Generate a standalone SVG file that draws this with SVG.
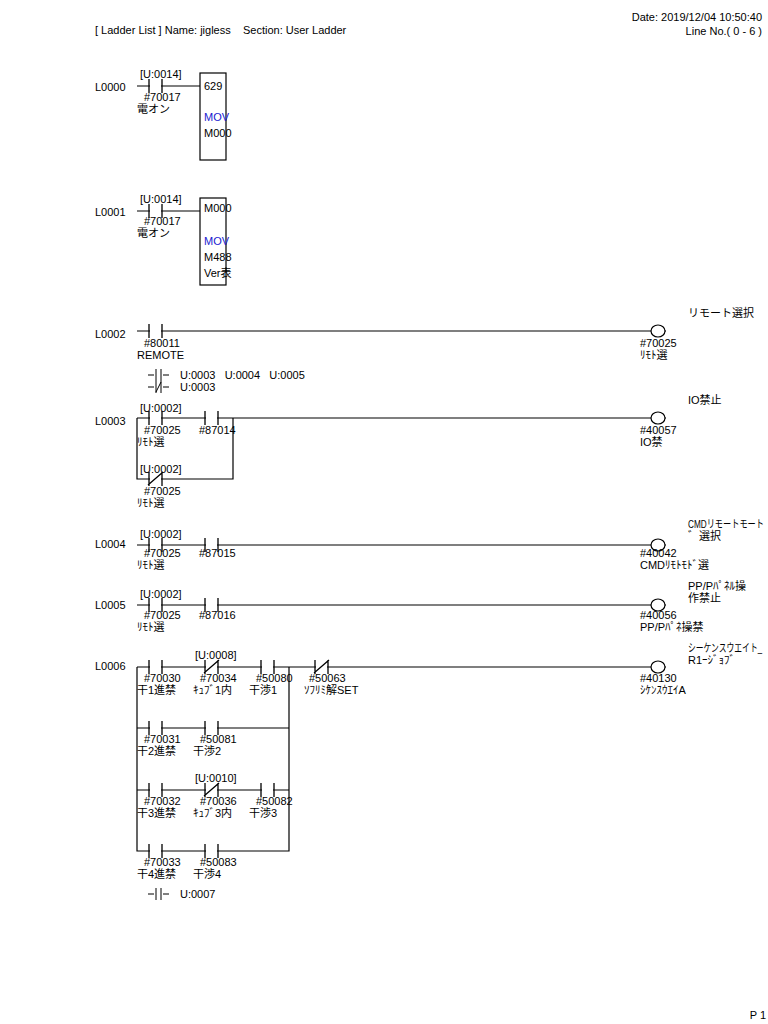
<svg xmlns="http://www.w3.org/2000/svg" xmlns:xlink="http://www.w3.org/1999/xlink" width="768" height="1024" viewBox="0 0 768 1024" xml:space="preserve">
<style>
text{font-family:"Liberation Sans","Noto Sans CJK JP",sans-serif;font-size:11px;fill:#000;white-space:pre}
.b{fill:#2020d0}
.w{stroke:#000;stroke-width:1.2;fill:none}
</style>
<defs>
<g id="no"><rect x="1" y="-3" width="11" height="6" fill="#fff"/><path d="M0,-7V7M13,-7V7" stroke="#000" stroke-width="1.3"/></g>
<g id="nc"><rect x="1" y="-3" width="11" height="6" fill="#fff"/><path d="M0,-7V7M13,-7V7M-1,6L14,-7" stroke="#000" stroke-width="1.3"/></g>
<g id="coil"><ellipse cx="0" cy="0" rx="7" ry="6" fill="#fff" stroke="#000" stroke-width="1.2"/></g>
<g id="xno"><path d="M0,0H6M8,-6V6M13,-6V6M15,0H21" stroke="#000" stroke-width="1"/></g>
<g id="xnc"><path d="M0,0H6M8,-6V6M13,-6V6M15,0H21M8,5L13,-5" stroke="#000" stroke-width="1"/></g>
</defs>
<rect width="768" height="1024" fill="#fff"/>
<text x="95" y="34">[ Ladder List ] Name: jigless    Section: User Ladder</text>
<text x="762" y="21" text-anchor="end">Date: 2019/12/04 10:50:40</text>
<text x="762" y="35" text-anchor="end">Line No.( 0 - 6 )</text>
<text x="766" y="1019" text-anchor="end">P 1</text>

<g id="connectors">
<path class="w" d="M137,86H200M137,211H200M137,331H666M137,418H666M137,418V479H233V418M137,545H666M137,605H666M137,667H666M137,667V851H289V667M137,728H289M137,790H289"/>
</g>

<g id="L0000">
<text x="95" y="91">L0000</text>
<use xlink:href="#no" x="149" y="86"/>
<text x="140" y="78">[U:0014]</text><text x="144" y="101">#70017</text><text x="137" y="113">電オン</text>
<rect x="200" y="73" width="26" height="87" fill="none" stroke="#000" stroke-width="1.2"/>
<text x="204" y="90">629</text><text x="204" y="121" class="b">MOV</text><text x="204" y="137">M000</text>
</g>
<g id="L0001">
<text x="95" y="216">L0001</text>
<use xlink:href="#no" x="149" y="211"/>
<text x="140" y="203">[U:0014]</text><text x="144" y="225">#70017</text><text x="137" y="237">電オン</text>
<rect x="200" y="198" width="26" height="87" fill="none" stroke="#000" stroke-width="1.2"/>
<text x="204" y="212">M000</text><text x="204" y="245" class="b">MOV</text><text x="204" y="261">M488</text><text x="204" y="277">Ver表</text>
</g>
<g id="L0002">
<text x="95" y="338">L0002</text>
<use xlink:href="#no" x="149" y="331"/>
<text x="144" y="347">#80011</text><text x="137" y="359">REMOTE</text>
<use xlink:href="#coil" x="658" y="331"/>
<text x="640" y="347">#70025</text><text x="640" y="359">ﾘﾓﾄ選</text>
<text x="688" y="317">リモート選択</text>
<use xlink:href="#xno" x="148" y="375"/><text x="180" y="379">U:0003   U:0004   U:0005</text>
<use xlink:href="#xnc" x="148" y="387"/><text x="180" y="391">U:0003</text>
</g>
<g id="L0003">
<text x="95" y="425">L0003</text>
<use xlink:href="#no" x="149" y="418"/><use xlink:href="#no" x="205" y="418"/><use xlink:href="#nc" x="149" y="479"/>
<text x="140" y="412">[U:0002]</text><text x="144" y="434">#70025</text><text x="137" y="446">ﾘﾓﾄ選</text>
<text x="199" y="434">#87014</text>
<text x="140" y="473">[U:0002]</text><text x="144" y="495">#70025</text><text x="137" y="507">ﾘﾓﾄ選</text>
<use xlink:href="#coil" x="658" y="418"/>
<text x="640" y="434">#40057</text><text x="640" y="446">IO禁</text>
<text x="688" y="404">IO禁止</text>
</g>
<g id="L0004">
<text x="95" y="548">L0004</text>
<use xlink:href="#no" x="149" y="545"/><use xlink:href="#no" x="205" y="545"/>
<text x="140" y="538">[U:0002]</text><text x="144" y="557">#70025</text><text x="137" y="569">ﾘﾓﾄ選</text>
<text x="199" y="557">#87015</text>
<use xlink:href="#coil" x="658" y="545"/>
<text x="640" y="557">#40042</text><text x="640" y="569">CMDﾘﾓﾄﾓﾄﾞ選</text>
<text x="688" y="528" textLength="76" lengthAdjust="spacingAndGlyphs">CMDリモートモート</text><text x="688" y="540">゛選択</text>
</g>
<g id="L0005">
<text x="95" y="609">L0005</text>
<use xlink:href="#no" x="149" y="605"/><use xlink:href="#no" x="205" y="605"/>
<text x="140" y="598">[U:0002]</text><text x="144" y="619">#70025</text><text x="137" y="631">ﾘﾓﾄ選</text>
<text x="199" y="619">#87016</text>
<use xlink:href="#coil" x="658" y="605"/>
<text x="640" y="619">#40056</text><text x="640" y="631">PP/Pﾊﾟﾈ操禁</text>
<text x="688" y="590">PP/Pﾊﾟﾈﾙ操</text><text x="688" y="602">作禁止</text>
</g>
<g id="L0006">
<text x="95" y="670">L0006</text>
<use xlink:href="#no" x="149" y="667"/><use xlink:href="#nc" x="205" y="667"/><use xlink:href="#no" x="261" y="667"/><use xlink:href="#nc" x="315" y="667"/>
<text x="195" y="659">[U:0008]</text>
<text x="144" y="682">#70030</text><text x="137" y="694">干1進禁</text>
<text x="200" y="682">#70034</text><text x="193" y="694">ｷｭﾌﾞ1内</text>
<text x="256" y="682">#50080</text><text x="249" y="694">干渉1</text>
<text x="309" y="682">#50063</text><text x="304" y="694">ｿﾌﾘﾐ解SET</text>
<use xlink:href="#coil" x="658" y="667"/>
<text x="640" y="682">#40130</text><text x="640" y="694">ｼｹﾝｽｳｴｲA</text>
<text x="688" y="652" textLength="74" lengthAdjust="spacingAndGlyphs">シーケンスウエイト_</text><text x="688" y="664">R1ｰｼﾞｮﾌﾞ</text>
<use xlink:href="#no" x="149" y="728"/><use xlink:href="#no" x="205" y="728"/>
<text x="144" y="743">#70031</text><text x="137" y="755">干2進禁</text>
<text x="200" y="743">#50081</text><text x="193" y="755">干渉2</text>
<use xlink:href="#no" x="149" y="790"/><use xlink:href="#nc" x="205" y="790"/><use xlink:href="#no" x="261" y="790"/>
<text x="195" y="782">[U:0010]</text>
<text x="144" y="805">#70032</text><text x="137" y="817">干3進禁</text>
<text x="200" y="805">#70036</text><text x="193" y="817">ｷｭﾌﾞ3内</text>
<text x="256" y="805">#50082</text><text x="249" y="817">干渉3</text>
<use xlink:href="#no" x="149" y="851"/><use xlink:href="#no" x="205" y="851"/>
<text x="144" y="866">#70033</text><text x="137" y="878">干4進禁</text>
<text x="200" y="866">#50083</text><text x="193" y="878">干渉4</text>
<use xlink:href="#xno" x="148" y="894"/><text x="180" y="898">U:0007</text>
</g>
</svg>
